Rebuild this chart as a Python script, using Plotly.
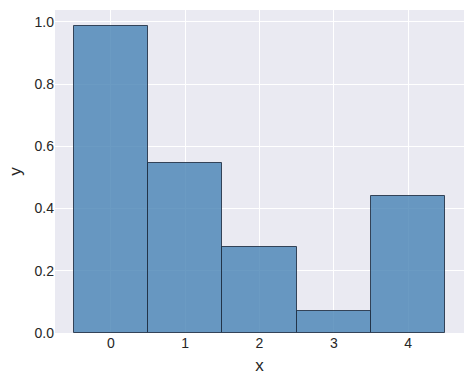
import plotly.graph_objects as go

categories = [0, 1, 2, 3, 4]
values = [0.988, 0.548, 0.276, 0.072, 0.441]
y_ticks = [0.0, 0.2, 0.4, 0.6, 0.8, 1.0]
x_ticks = [0, 1, 2, 3, 4]

fig = go.Figure(go.Bar(
    x=categories, y=values, width=1,
    marker=dict(color="rgba(70,130,180,0.8)",
                line=dict(color="rgba(30,45,65,0.85)", width=1)),
))

font = dict(family="Liberation Sans, Arial, sans-serif", size=14, color="#262626")
fig.update_layout(
    width=474, height=382,
    margin=dict(l=55, r=10, t=10, b=49),
    paper_bgcolor="white", plot_bgcolor="#EAEAF2",
    font=font, showlegend=False, bargap=0,
    xaxis=dict(range=[-0.75, 4.75], tickvals=x_ticks, showgrid=True,
               gridcolor="white", gridwidth=1.3, zeroline=False,
               ticks="", ticklen=0, title=dict(text="x", standoff=9),
               showline=False),
    yaxis=dict(range=[0, 1.0385], tickvals=y_ticks, tickformat=".1f",
               showgrid=True, gridcolor="white", gridwidth=1.3, zeroline=False,
               ticks="", title=dict(text="y", standoff=8), showline=False),
)
fig.write_html("out.html")
